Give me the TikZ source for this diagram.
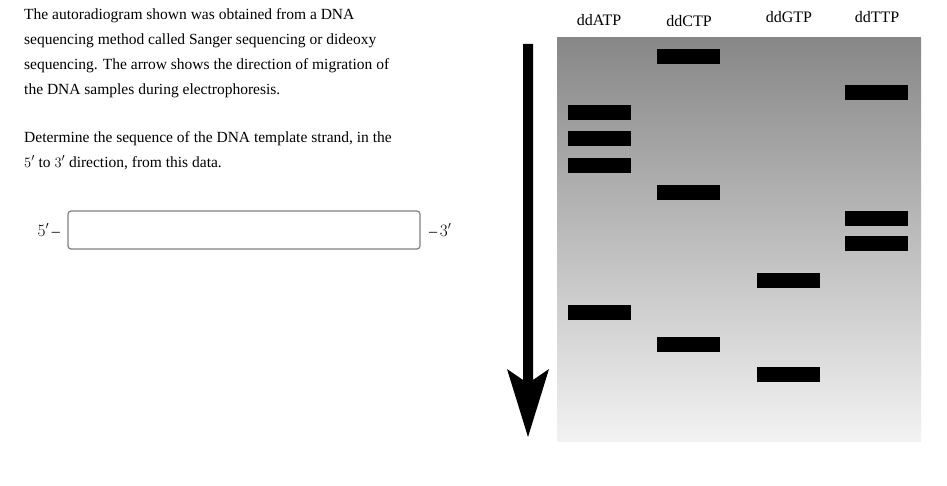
\documentclass[tikz,border=0pt]{standalone}
\usepackage{fontspec}
\setmainfont{Liberation Serif}
\begin{document}
\begin{tikzpicture}[x=1pt,y=-1pt,
  band/.style={fill=black},
  lbl/.style={font=\fontsize{16}{18}\selectfont, inner sep=0pt},
  txt/.style={font=\fontsize{15.5}{25}\selectfont, inner sep=0pt, anchor=north west, align=left}]
\useasboundingbox (0,0) rectangle (947,486);
\fill[white] (0,0) rectangle (947,486);
\shade[top color=black!47, bottom color=black!5] (557,38) rectangle (921,441);
\node[txt] (t1) at (24,8) {The autoradiogram shown was obtained from a DNA\\sequencing method called Sanger sequencing or dideoxy\\sequencing. The arrow shows the direction of migration of\\the DNA samples during electrophoresis.};
\node[txt] (t2) at (24,131) {Determine the sequence of the DNA template strand, in the\\$5'$ to $3'$ direction, from this data.};
\node[draw=black!50, line width=1.2pt, rounded corners=3pt, minimum width=352, minimum height=38, inner sep=0pt] (box) at (244,230) {};
\node[lbl, anchor=east] (l5) at (60,230) {$5'$\,–};
\node[lbl, anchor=west] (r3) at (429,230) {–\,$3'$};
\foreach \n/\x/\y in {A/599/20,C/689/21,G/789/17,T/877/17}
  \node[lbl] (lab\n) at (\x,\y) {dd\n TP};
\foreach \x/\y in {568/105,568/131,568/158,568/305,657/49,657/185,657/337,757/273,757/367,845/85,845/211,845/236}
  \fill[band] (\x,\y) rectangle ++(63,15);
\fill (523,44) -- (533,44) -- (533,380) -- (549,369) -- (528,437) -- (507,369) -- (523,380) -- cycle;
\end{tikzpicture}
\end{document}
